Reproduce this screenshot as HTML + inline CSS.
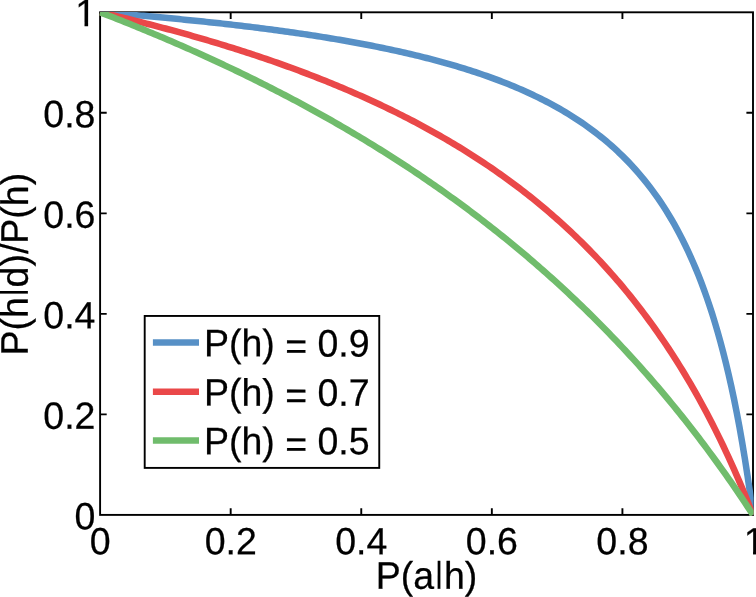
<!DOCTYPE html>
<html><head><meta charset="utf-8"><title>plot</title>
<style>
html,body{margin:0;padding:0;background:#fff;}
svg{display:block;}
text{font-family:"Liberation Sans",sans-serif;font-size:37.5px;fill:#000;stroke:#000;stroke-width:0.25px;}
</style></head><body>
<svg width="756" height="597" viewBox="0 0 756 597">
<rect width="756" height="597" fill="#fff"/>
<defs><clipPath id="c"><rect x="99.4" y="11.95" width="654.30" height="503.95"/></clipPath>
<clipPath id="one"><path d="M-5,-40H30V-3.4H12.89V2H9.28V-3.4H-5Z"/></clipPath></defs>

<rect x="100.1" y="12.3" width="652.90" height="502.60" fill="none" stroke="#000" stroke-width="1.9"/>
<path d="M230.68,514.9v-6.6M230.68,12.3v6.6M100.1,414.38h6.6M753.0,414.38h-6.6M361.26,514.9v-6.6M361.26,12.3v6.6M100.1,313.86h6.6M753.0,313.86h-6.6M491.84,514.9v-6.6M491.84,12.3v6.6M100.1,213.34h6.6M753.0,213.34h-6.6M622.42,514.9v-6.6M622.42,12.3v6.6M100.1,112.82h6.6M753.0,112.82h-6.6" stroke="#000" stroke-width="1.9" fill="none"/>
<g clip-path="url(#c)" fill="none" stroke-linejoin="round">
<polyline points="100.10,12.30 102.82,12.51 105.54,12.72 108.26,12.94 110.98,13.15 113.70,13.37 116.42,13.59 119.14,13.81 121.86,14.03 124.58,14.25 127.30,14.48 130.02,14.70 132.75,14.93 135.47,15.16 138.19,15.39 140.91,15.63 143.63,15.86 146.35,16.10 149.07,16.34 151.79,16.58 154.51,16.83 157.23,17.07 159.95,17.32 162.67,17.57 165.39,17.82 168.11,18.08 170.83,18.33 173.55,18.59 176.27,18.85 178.99,19.11 181.71,19.38 184.43,19.65 187.15,19.92 189.87,20.19 192.59,20.46 195.31,20.74 198.03,21.02 200.76,21.30 203.48,21.58 206.20,21.87 208.92,22.15 211.64,22.45 214.36,22.74 217.08,23.04 219.80,23.34 222.52,23.64 225.24,23.94 227.96,24.25 230.68,24.56 233.40,24.87 236.12,25.19 238.84,25.51 241.56,25.83 244.28,26.15 247.00,26.48 249.72,26.81 252.44,27.14 255.16,27.48 257.88,27.82 260.60,28.17 263.32,28.51 266.05,28.86 268.77,29.22 271.49,29.57 274.21,29.94 276.93,30.30 279.65,30.67 282.37,31.04 285.09,31.41 287.81,31.79 290.53,32.18 293.25,32.56 295.97,32.95 298.69,33.35 301.41,33.75 304.13,34.15 306.85,34.56 309.57,34.97 312.29,35.39 315.01,35.81 317.73,36.23 320.45,36.66 323.17,37.10 325.89,37.54 328.62,37.98 331.34,38.43 334.06,38.88 336.78,39.34 339.50,39.81 342.22,40.27 344.94,40.75 347.66,41.23 350.38,41.71 353.10,42.21 355.82,42.70 358.54,43.20 361.26,43.71 363.98,44.23 366.70,44.75 369.42,45.27 372.14,45.81 374.86,46.35 377.58,46.89 380.30,47.44 383.02,48.00 385.74,48.57 388.46,49.14 391.18,49.72 393.90,50.31 396.63,50.91 399.35,51.51 402.07,52.12 404.79,52.74 407.51,53.37 410.23,54.00 412.95,54.64 415.67,55.30 418.39,55.96 421.11,56.62 423.83,57.30 426.55,57.99 429.27,58.69 431.99,59.39 434.71,60.11 437.43,60.84 440.15,61.57 442.87,62.32 445.59,63.08 448.31,63.85 451.03,64.63 453.75,65.42 456.47,66.22 459.20,67.04 461.92,67.87 464.64,68.71 467.36,69.56 470.08,70.42 472.80,71.30 475.52,72.20 478.24,73.10 480.96,74.02 483.68,74.96 486.40,75.91 489.12,76.87 491.84,77.86 494.56,78.85 497.28,79.87 500.00,80.90 502.72,81.95 505.44,83.02 508.16,84.10 510.88,85.20 513.60,86.33 516.32,87.47 519.04,88.63 521.76,89.82 524.49,91.02 527.21,92.25 529.93,93.50 532.65,94.77 535.37,96.07 538.09,97.39 540.81,98.73 543.53,100.11 546.25,101.51 548.97,102.93 551.69,104.39 554.41,105.87 557.13,107.39 559.85,108.93 562.57,110.51 565.29,112.12 568.01,113.76 570.73,115.44 573.45,117.16 576.17,118.91 578.89,120.70 581.61,122.54 584.33,124.41 587.05,126.32 589.77,128.28 592.50,130.29 595.22,132.34 597.94,134.45 600.66,136.60 603.38,138.80 606.10,141.07 608.82,143.38 611.54,145.76 614.26,148.20 616.98,150.70 619.70,153.26 622.42,155.90 625.14,158.61 627.86,161.39 630.58,164.25 633.30,167.19 636.02,170.21 638.74,173.33 641.46,176.53 644.18,179.83 646.90,183.24 649.62,186.74 652.34,190.36 655.06,194.09 657.79,197.95 660.51,201.93 663.23,206.04 665.95,210.29 668.67,214.70 671.39,219.25 674.11,223.97 676.83,228.87 679.55,233.94 682.27,239.21 684.99,244.68 687.71,250.37 690.43,256.29 693.15,262.45 695.87,268.87 698.59,275.57 701.31,282.55 704.03,289.86 706.75,297.49 709.47,305.48 712.19,313.86 714.91,322.65 717.63,331.88 720.36,341.59 723.08,351.81 725.80,362.60 728.52,373.98 731.24,386.03 733.96,398.79 736.68,412.33 739.40,426.72 742.12,442.06 744.84,458.43 747.56,475.94 750.28,494.72 753.00,514.90" stroke="#5790c6" stroke-width="6.5"/>
<polyline points="100.10,12.30 102.82,12.93 105.54,13.56 108.26,14.20 110.98,14.84 113.70,15.49 116.42,16.14 119.14,16.79 121.86,17.45 124.58,18.11 127.30,18.77 130.02,19.44 132.75,20.11 135.47,20.79 138.19,21.47 140.91,22.15 143.63,22.84 146.35,23.54 149.07,24.24 151.79,24.94 154.51,25.64 157.23,26.35 159.95,27.07 162.67,27.79 165.39,28.51 168.11,29.24 170.83,29.97 173.55,30.71 176.27,31.46 178.99,32.20 181.71,32.95 184.43,33.71 187.15,34.47 189.87,35.24 192.59,36.01 195.31,36.79 198.03,37.57 200.76,38.36 203.48,39.15 206.20,39.95 208.92,40.75 211.64,41.56 214.36,42.37 217.08,43.19 219.80,44.01 222.52,44.84 225.24,45.68 227.96,46.52 230.68,47.37 233.40,48.22 236.12,49.08 238.84,49.94 241.56,50.81 244.28,51.69 247.00,52.57 249.72,53.46 252.44,54.35 255.16,55.25 257.88,56.16 260.60,57.07 263.32,57.99 266.05,58.92 268.77,59.85 271.49,60.79 274.21,61.74 276.93,62.69 279.65,63.65 282.37,64.62 285.09,65.59 287.81,66.57 290.53,67.56 293.25,68.56 295.97,69.56 298.69,70.57 301.41,71.59 304.13,72.61 306.85,73.65 309.57,74.69 312.29,75.73 315.01,76.79 317.73,77.86 320.45,78.93 323.17,80.01 325.89,81.10 328.62,82.20 331.34,83.30 334.06,84.42 336.78,85.54 339.50,86.68 342.22,87.82 344.94,88.97 347.66,90.13 350.38,91.30 353.10,92.47 355.82,93.66 358.54,94.86 361.26,96.07 363.98,97.28 366.70,98.51 369.42,99.75 372.14,100.99 374.86,102.25 377.58,103.52 380.30,104.80 383.02,106.09 385.74,107.39 388.46,108.70 391.18,110.02 393.90,111.35 396.63,112.70 399.35,114.05 402.07,115.42 404.79,116.80 407.51,118.19 410.23,119.60 412.95,121.01 415.67,122.44 418.39,123.88 421.11,125.34 423.83,126.80 426.55,128.28 429.27,129.78 431.99,131.29 434.71,132.81 437.43,134.34 440.15,135.89 442.87,137.45 445.59,139.03 448.31,140.62 451.03,142.23 453.75,143.85 456.47,145.49 459.20,147.14 461.92,148.81 464.64,150.50 467.36,152.20 470.08,153.92 472.80,155.65 475.52,157.40 478.24,159.17 480.96,160.96 483.68,162.76 486.40,164.58 489.12,166.42 491.84,168.28 494.56,170.16 497.28,172.05 500.00,173.97 502.72,175.90 505.44,177.86 508.16,179.83 510.88,181.83 513.60,183.85 516.32,185.88 519.04,187.94 521.76,190.03 524.49,192.13 527.21,194.26 529.93,196.41 532.65,198.58 535.37,200.77 538.09,203.00 540.81,205.24 543.53,207.51 546.25,209.81 548.97,212.13 551.69,214.48 554.41,216.85 557.13,219.25 559.85,221.68 562.57,224.14 565.29,226.63 568.01,229.14 570.73,231.69 573.45,234.26 576.17,236.87 578.89,239.50 581.61,242.17 584.33,244.87 587.05,247.61 589.77,250.37 592.50,253.18 595.22,256.01 597.94,258.88 600.66,261.79 603.38,264.74 606.10,267.72 608.82,270.74 611.54,273.80 614.26,276.90 616.98,280.04 619.70,283.22 622.42,286.45 625.14,289.71 627.86,293.02 630.58,296.38 633.30,299.78 636.02,303.23 638.74,306.72 641.46,310.27 644.18,313.86 646.90,317.50 649.62,321.20 652.34,324.95 655.06,328.75 657.79,332.61 660.51,336.52 663.23,340.50 665.95,344.53 668.67,348.62 671.39,352.77 674.11,356.99 676.83,361.27 679.55,365.61 682.27,370.03 684.99,374.51 687.71,379.06 690.43,383.69 693.15,388.39 695.87,393.16 698.59,398.02 701.31,402.95 704.03,407.96 706.75,413.06 709.47,418.25 712.19,423.52 714.91,428.88 717.63,434.34 720.36,439.89 723.08,445.53 725.80,451.28 728.52,457.13 731.24,463.09 733.96,469.15 736.68,475.33 739.40,481.62 742.12,488.02 744.84,494.55 747.56,501.21 750.28,507.99 753.00,514.90" stroke="#ea4849" stroke-width="6.5"/>
<polyline points="100.10,12.30 102.82,13.35 105.54,14.40 108.26,15.46 110.98,16.52 113.70,17.59 116.42,18.66 119.14,19.74 121.86,20.82 124.58,21.90 127.30,22.99 130.02,24.09 132.75,25.19 135.47,26.29 138.19,27.40 140.91,28.51 143.63,29.63 146.35,30.75 149.07,31.88 151.79,33.01 154.51,34.15 157.23,35.29 159.95,36.44 162.67,37.59 165.39,38.75 168.11,39.92 170.83,41.08 173.55,42.26 176.27,43.43 178.99,44.62 181.71,45.81 184.43,47.00 187.15,48.20 189.87,49.40 192.59,50.61 195.31,51.83 198.03,53.05 200.76,54.28 203.48,55.51 206.20,56.75 208.92,57.99 211.64,59.24 214.36,60.49 217.08,61.75 219.80,63.02 222.52,64.29 225.24,65.57 227.96,66.85 230.68,68.14 233.40,69.44 236.12,70.74 238.84,72.05 241.56,73.36 244.28,74.68 247.00,76.01 249.72,77.34 252.44,78.68 255.16,80.03 257.88,81.38 260.60,82.74 263.32,84.10 266.05,85.47 268.77,86.85 271.49,88.23 274.21,89.62 276.93,91.02 279.65,92.42 282.37,93.84 285.09,95.25 287.81,96.68 290.53,98.11 293.25,99.55 295.97,100.99 298.69,102.45 301.41,103.91 304.13,105.37 306.85,106.85 309.57,108.33 312.29,109.82 315.01,111.32 317.73,112.82 320.45,114.33 323.17,115.85 325.89,117.38 328.62,118.91 331.34,120.45 334.06,122.00 336.78,123.56 339.50,125.13 342.22,126.70 344.94,128.28 347.66,129.87 350.38,131.47 353.10,133.08 355.82,134.69 358.54,136.32 361.26,137.95 363.98,139.59 366.70,141.24 369.42,142.90 372.14,144.56 374.86,146.24 377.58,147.92 380.30,149.62 383.02,151.32 385.74,153.03 388.46,154.75 391.18,156.48 393.90,158.22 396.63,159.96 399.35,161.72 402.07,163.49 404.79,165.27 407.51,167.05 410.23,168.85 412.95,170.65 415.67,172.47 418.39,174.30 421.11,176.13 423.83,177.98 426.55,179.83 429.27,181.70 431.99,183.58 434.71,185.46 437.43,187.36 440.15,189.27 442.87,191.19 445.59,193.12 448.31,195.06 451.03,197.02 453.75,198.98 456.47,200.96 459.20,202.94 461.92,204.94 464.64,206.95 467.36,208.97 470.08,211.00 472.80,213.05 475.52,215.10 478.24,217.17 480.96,219.25 483.68,221.35 486.40,223.45 489.12,225.57 491.84,227.70 494.56,229.84 497.28,232.00 500.00,234.17 502.72,236.35 505.44,238.55 508.16,240.75 510.88,242.98 513.60,245.21 516.32,247.46 519.04,249.72 521.76,252.00 524.49,254.29 527.21,256.60 529.93,258.92 532.65,261.25 535.37,263.60 538.09,265.96 540.81,268.34 543.53,270.73 546.25,273.14 548.97,275.57 551.69,278.01 554.41,280.46 557.13,282.93 559.85,285.42 562.57,287.92 565.29,290.44 568.01,292.97 570.73,295.52 573.45,298.09 576.17,300.68 578.89,303.28 581.61,305.90 584.33,308.53 587.05,311.19 589.77,313.86 592.50,316.55 595.22,319.26 597.94,321.98 600.66,324.73 603.38,327.49 606.10,330.27 608.82,333.07 611.54,335.89 614.26,338.73 616.98,341.59 619.70,344.47 622.42,347.37 625.14,350.29 627.86,353.22 630.58,356.18 633.30,359.16 636.02,362.17 638.74,365.19 641.46,368.23 644.18,371.30 646.90,374.39 649.62,377.50 652.34,380.63 655.06,383.79 657.79,386.97 660.51,390.17 663.23,393.39 665.95,396.64 668.67,399.91 671.39,403.21 674.11,406.53 676.83,409.88 679.55,413.25 682.27,416.65 684.99,420.07 687.71,423.52 690.43,426.99 693.15,430.49 695.87,434.02 698.59,437.58 701.31,441.16 704.03,444.77 706.75,448.41 709.47,452.07 712.19,455.77 714.91,459.50 717.63,463.25 720.36,467.03 723.08,470.85 725.80,474.69 728.52,478.57 731.24,482.47 733.96,486.41 736.68,490.38 739.40,494.39 742.12,498.42 744.84,502.49 747.56,506.59 750.28,510.73 753.00,514.90" stroke="#70bc6c" stroke-width="6.5"/>
</g>
<text transform="translate(100.10,554.25) rotate(0.05) scale(1,1.008)" text-anchor="middle">0</text>
<text transform="translate(95.40,529.25) rotate(0.05) scale(1,1.008)" text-anchor="end">0</text>
<text transform="translate(230.68,554.25) rotate(0.05) scale(1,1.008)" text-anchor="middle">0.2</text>
<text transform="translate(95.40,428.73) rotate(0.05) scale(1,1.008)" text-anchor="end">0.2</text>
<text transform="translate(361.26,554.25) rotate(0.05) scale(1,1.008)" text-anchor="middle">0.4</text>
<text transform="translate(95.40,328.21) rotate(0.05) scale(1,1.008)" text-anchor="end">0.4</text>
<text transform="translate(491.84,554.25) rotate(0.05) scale(1,1.008)" text-anchor="middle">0.6</text>
<text transform="translate(95.40,227.69) rotate(0.05) scale(1,1.008)" text-anchor="end">0.6</text>
<text transform="translate(622.42,554.25) rotate(0.05) scale(1,1.008)" text-anchor="middle">0.8</text>
<text transform="translate(95.40,127.17) rotate(0.05) scale(1,1.008)" text-anchor="end">0.8</text>
<text transform="translate(743.77,554.30) rotate(0.05) scale(1,1.012)" clip-path="url(#one)">1</text>
<text transform="translate(75.24,26.10) rotate(0.05) scale(1,1.012)" clip-path="url(#one)">1</text>
<text transform="translate(426.55,588.70) rotate(0.05) scale(1,1.025)" text-anchor="middle">P(a<tspan font-size="29.03px" dx="1.10" dy="-6.15">|</tspan><tspan dx="1.10" dy="6.15">h)</tspan></text>
<text transform="translate(27.85,264.20) rotate(-89.95) scale(1,1.025)" text-anchor="middle">P(h<tspan font-size="29.03px" dx="1.10" dy="-6.15">|</tspan><tspan dx="1.10" dy="6.15">d)/P(h)</tspan></text>
<rect x="144.7" y="315.95" width="234.55" height="151.95" fill="#fff" stroke="#000" stroke-width="1.9"/>
<line x1="152.9" x2="199" y1="342.5" y2="342.5" stroke="#5790c6" stroke-width="6.5"/>
<text transform="translate(203.90,356.30) rotate(0.05) scale(1,1.02)">P(h) <tspan dy="2.85">=</tspan><tspan dy="-2.85"> 0.9</tspan></text>
<line x1="152.9" x2="199" y1="391.8" y2="391.8" stroke="#ea4849" stroke-width="6.5"/>
<text transform="translate(203.90,405.60) rotate(0.05) scale(1,1.02)">P(h) <tspan dy="2.85">=</tspan><tspan dy="-2.85"> 0.7</tspan></text>
<line x1="152.9" x2="199" y1="440.4" y2="440.4" stroke="#70bc6c" stroke-width="6.5"/>
<text transform="translate(203.90,454.20) rotate(0.05) scale(1,1.02)">P(h) <tspan dy="2.85">=</tspan><tspan dy="-2.85"> 0.5</tspan></text>
</svg></body></html>
